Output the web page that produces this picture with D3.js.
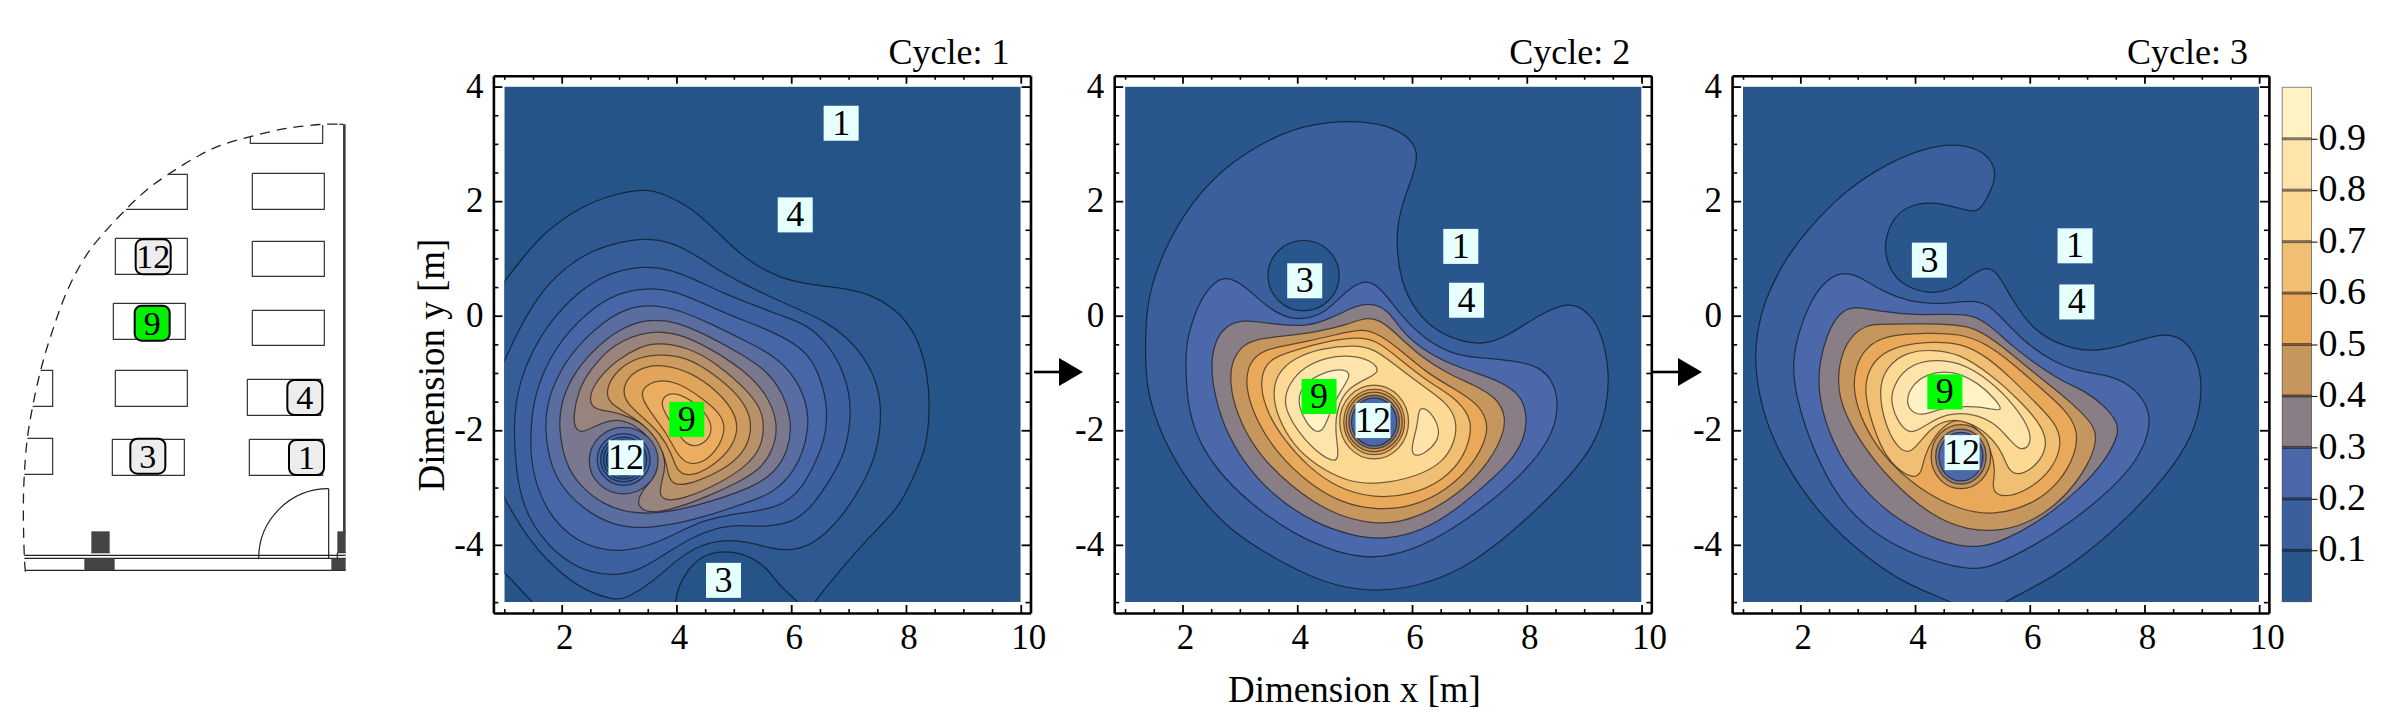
<!DOCTYPE html>
<html>
<head>
<meta charset="utf-8">
<script src="https://cdn.jsdelivr.net/npm/d3@7"></script>
<style>
  body { margin: 0; background: #fff; }
  text { font-family: "Liberation Serif", serif; fill: #000; }
</style>
</head>
<body>
<div id="chart"></div>
<script>
// colour bar bands, colour picked at the middle of each band
var bandMids = [0.05, 0.15, 0.25, 0.35, 0.45, 0.55, 0.65, 0.75, 0.85, 0.95]
var bandColors = ["#29568c", "#395f9c", "#4a68aa", "#897d86", "#c5975f", "#e9a85a", "#f0bf73", "#fdd994", "#fee3ab", "#fff2c4"]
var barTicks = [0.1, 0.2, 0.3, 0.4, 0.5, 0.6, 0.7, 0.8, 0.9]
var xMajor = [2, 4, 6, 8, 10]
var yMajor = [-4, -2, 0, 2, 4]
var cycleNames = ["Cycle: 1", "Cycle: 2", "Cycle: 3"]

// sensor labels: name, x [m], y [m]
var cycle1Sensors = [["1", 6.87, 3.36], ["4", 6.07, 1.76], ["9", 4.18, -1.81], ["12", 3.12, -2.48], ["3", 4.82, -4.62]]
var cycle2Sensors = [["3", 4.13, 0.61], ["1", 6.85, 1.21], ["4", 6.95, 0.27], ["9", 4.38, -1.41], ["12", 5.32, -1.83]]
var cycle3Sensors = [["3", 4.25, 0.97], ["1", 6.79, 1.22], ["4", 6.82, 0.24], ["9", 4.52, -1.33], ["12", 4.82, -2.39]]

// cycle 1 iso lines, every 0.05
var cycle1Levels = [0.05, 0.1, 0.15, 0.2, 0.25, 0.3, 0.35, 0.4, 0.45, 0.5, 0.55, 0.6]
var cycle1Lines = [
  [[0.8,0.35],[1,0.59],[1.33,1.03],[1.74,1.49],[2.32,1.90],[2.90,2.12],[3.44,2.21],[3.71,2.16],[4.30,1.87],[4.76,1.41],[5.22,0.97],[5.80,0.65],[6.39,0.53],[6.97,0.48],[7.49,0.33],[7.90,0.04],[8.2,-0.37],[8.38,-1.0],[8.42,-1.65],[8.35,-2.34],[8.13,-2.8],[7.91,-3.33],[7.25,-3.97],[6.81,-4.5],[6.39,-5.0],[6.32,-5.2],[6.2,-5.2],[6.15,-5.0],[5.80,-4.73],[5.57,-4.38],[5.22,-4.17],[4.85,-4.10],[4.47,-4.17],[4.21,-4.41],[4.03,-4.73],[3.98,-5.0],[3.95,-5.2],[1.7,-5.2],[1.48,-5.0],[1.16,-4.64],[1,-4.49],[0.8,-4.3],[0.6,-2]],
  [[0.7,-1.4],[1,-0.8],[1.22,-0.31],[1.57,0.33],[2.03,0.83],[2.55,1.15],[3.02,1.29],[3.45,1.35],[3.83,1.31],[4.30,1.09],[4.76,0.77],[5.22,0.53],[5.57,0.36],[6.15,0.10],[6.56,-0.08],[6.97,-0.37],[7.31,-0.77],[7.52,-1.24],[7.58,-1.76],[7.49,-2.40],[7.26,-2.93],[6.91,-3.48],[6.50,-3.91],[6.10,-4.10],[5.69,-4.08],[5.22,-3.94],[4.82,-3.91],[4.41,-4.0],[4.0,-4.26],[3.60,-4.64],[3.13,-4.93],[2.96,-4.97],[2.49,-4.84],[2.03,-4.55],[1.45,-3.97],[1,-3.19],[0.7,-2.6],[0.6,-2]],
  [[1.16,-1.99],[1.21,-1.41],[1.36,-0.89],[1.65,-0.31],[2.03,0.16],[2.44,0.53],[2.90,0.77],[3.45,0.87],[3.89,0.81],[4.35,0.62],[4.82,0.39],[5.34,0.19],[5.80,0.01],[6.21,-0.13],[6.56,-0.40],[6.85,-0.83],[7.02,-1.34],[7.04,-1.81],[6.94,-2.40],[6.68,-2.86],[6.39,-3.30],[6.04,-3.62],[5.51,-3.69],[5.05,-3.65],[4.76,-3.69],[4.30,-3.85],[3.83,-4.14],[3.37,-4.44],[2.96,-4.54],[2.49,-4.49],[2.03,-4.26],[1.62,-3.85],[1.33,-3.33],[1.21,-2.75]],
  [[1.46,-1.99],[1.51,-1.47],[1.71,-0.89],[2.03,-0.37],[2.49,0.10],[2.96,0.39],[3.46,0.49],[3.95,0.44],[4.41,0.24],[4.93,0.01],[5.46,-0.19],[5.92,-0.40],[6.30,-0.66],[6.53,-1.12],[6.64,-1.65],[6.59,-2.17],[6.39,-2.63],[6.15,-3.07],[5.80,-3.33],[5.34,-3.42],[4.88,-3.48],[4.41,-3.59],[3.95,-3.83],[3.48,-4.03],[3.02,-4.12],[2.55,-4.06],[2.12,-3.83],[1.77,-3.45],[1.54,-2.92],[1.46,-2.46]],
  [[1.71,-1.99],[1.74,-1.53],[1.94,-1.01],[2.26,-0.54],[2.73,-0.10],[3.13,0.13],[3.54,0.20],[4.06,0.10],[4.64,-0.16],[5.22,-0.45],[5.69,-0.69],[6.07,-1.06],[6.27,-1.53],[6.31,-1.88],[6.21,-2.40],[5.98,-2.81],[5.63,-3.13],[5.11,-3.30],[4.59,-3.48],[4.06,-3.62],[3.60,-3.69],[3.25,-3.71],[2.79,-3.62],[2.32,-3.33],[1.94,-2.92],[1.77,-2.46]],
  [[1.95,-1.99],[1.98,-1.53],[2.18,-1.06],[2.49,-0.66],[2.96,-0.25],[3.48,-0.05],[4.01,-0.10],[4.59,-0.37],[5.11,-0.66],[5.57,-0.95],[5.86,-1.35],[6.02,-1.88],[5.95,-2.34],[5.72,-2.75],[5.28,-3.01],[4.76,-3.19],[4.18,-3.36],[3.71,-3.45],[3.19,-3.45],[2.73,-3.30],[2.32,-2.98],[2.06,-2.58]],
  [[2.20,-1.76],[2.29,-1.30],[2.49,-0.95],[2.90,-0.48],[3.54,-0.25],[4.06,-0.31],[4.64,-0.60],[5.17,-0.95],[5.57,-1.35],[5.78,-1.88],[5.69,-2.34],[5.46,-2.69],[4.99,-2.95],[4.53,-3.16],[4.0,-3.36],[3.54,-3.46],[3.31,-3.33],[3.36,-3.10],[3.63,-2.81],[3.69,-2.46],[3.54,-2.14],[3.25,-1.88],[2.90,-1.79],[2.55,-1.94],[2.35,-2.05],[2.23,-1.97]],
  [[2.48,-1.41],[2.61,-1.12],[2.96,-0.77],[3.37,-0.54],[3.66,-0.47],[4.18,-0.54],[4.70,-0.83],[5.17,-1.24],[5.46,-1.59],[5.53,-1.88],[5.49,-2.29],[5.22,-2.63],[4.76,-2.92],[4.18,-3.18],[3.83,-3.24],[3.69,-3.13],[3.75,-2.87],[3.83,-2.58],[3.69,-2.11],[3.37,-1.85],[3.02,-1.70],[2.67,-1.65],[2.52,-1.59]],
  [[2.77,-1.35],[2.87,-1.06],[3.19,-0.77],[3.66,-0.66],[4.18,-0.72],[4.64,-1.01],[5.05,-1.35],[5.28,-1.70],[5.31,-2.05],[5.17,-2.40],[4.82,-2.69],[4.35,-2.90],[4.0,-2.98],[3.86,-2.84],[3.83,-2.58],[3.71,-2.23],[3.48,-1.94],[3.13,-1.70],[2.84,-1.53]],
  [[3.06,-1.30],[3.16,-1.06],[3.43,-0.89],[3.77,-0.85],[4.24,-0.98],[4.70,-1.30],[4.99,-1.65],[5.08,-1.94],[4.99,-2.28],[4.64,-2.63],[4.24,-2.82],[4.0,-2.72],[3.92,-2.40],[3.71,-2.05],[3.43,-1.79],[3.13,-1.53]],
  [[3.37,-1.41],[3.43,-1.24],[3.66,-1.12],[4.0,-1.15],[4.41,-1.41],[4.76,-1.70],[4.86,-1.94],[4.76,-2.28],[4.47,-2.58],[4.18,-2.60],[4.0,-2.40],[3.83,-2.05],[3.60,-1.76]],
  [[3.73,-1.53],[3.80,-1.38],[4.0,-1.34],[4.30,-1.50],[4.56,-1.76],[4.63,-1.99],[4.53,-2.20],[4.30,-2.30],[4.12,-2.20],[3.95,-1.94],[3.80,-1.70]]
]
// dips around a sensor: level, x, y, x radius, y radius [m]
var cycle1Dips = [[0.3,3.08,-2.53,0.60,0.58],[0.25,3.08,-2.51,0.46,0.45],[0.2,3.08,-2.51,0.40,0.39],[0.15,3.08,-2.51,0.35,0.34],[0.1,3.08,-2.51,0.30,0.29],[0.05,3.08,-2.51,0.25,0.24]]

// cycle 2 iso lines, every 0.1
var cycle2Levels = [0.1, 0.2, 0.3, 0.4, 0.5, 0.6, 0.7, 0.8, 0.8, 0.9]
var cycle2Lines = [
  [[1.37,0.04],[1.45,0.51],[1.70,1.20],[2.14,1.96],[2.73,2.60],[3.46,3.06],[4.12,3.33],[4.93,3.42],[5.59,3.33],[5.99,3.09],[6.12,2.80],[5.99,2.37],[5.81,1.90],[5.71,1.38],[5.80,0.56],[6.09,0.04],[6.44,-0.28],[6.85,-0.45],[7.25,-0.51],[7.66,-0.36],[8.16,-0.02],[8.74,0.27],[9.11,0.04],[9.33,-0.37],[9.44,-1.01],[9.40,-1.59],[9.18,-2.28],[8.60,-2.98],[7.79,-3.74],[7.06,-4.32],[6.32,-4.67],[5.44,-4.84],[4.49,-4.70],[3.54,-4.20],[2.80,-3.74],[2.14,-2.98],[1.63,-2.11],[1.37,-1.30],[1.35,-0.60]],
  [[2.09,-0.37],[2.29,0.27],[2.58,0.62],[2.80,0.68],[3.10,0.51],[3.46,0.16],[3.83,-0.05],[4.12,-0.06],[4.49,0.04],[4.86,0.45],[5.22,0.66],[5.51,0.42],[5.80,0.01],[6.21,-0.40],[6.67,-0.66],[7.14,-0.74],[7.79,-0.78],[8.23,-0.89],[8.49,-1.18],[8.56,-1.64],[8.41,-2.17],[7.94,-2.75],[7.35,-3.27],[6.69,-3.74],[6.03,-4.09],[5.37,-4.25],[4.71,-4.15],[3.90,-3.80],[3.17,-3.27],[2.58,-2.69],[2.18,-2.0],[2.06,-1.30],[2.06,-0.60]],
  [[5.22,0.23],[5.57,0.13],[5.80,-0.25],[6.15,-0.57],[6.62,-0.83],[7.14,-1.01],[7.54,-1.15],[7.90,-1.38],[8.01,-1.76],[7.96,-2.15],[7.72,-2.55],[7.25,-2.98],[6.62,-3.51],[5.98,-3.83],[5.45,-3.90],[4.99,-3.85],[4.29,-3.62],[3.60,-3.16],[3.07,-2.58],[2.72,-1.94],[2.55,-1.35],[2.49,-0.83],[2.58,-0.40],[2.78,-0.16],[3.07,-0.06],[3.65,-0.16],[4.18,-0.19],[4.58,-0.05],[4.93,0.13]],
  [[5.19,-0.02],[4.87,-0.16],[4.35,-0.28],[3.83,-0.35],[3.25,-0.41],[3.02,-0.54],[2.84,-0.83],[2.83,-1.30],[3.01,-1.88],[3.36,-2.46],[3.89,-2.98],[4.58,-3.45],[5.22,-3.62],[5.69,-3.63],[6.27,-3.45],[6.91,-3.04],[7.37,-2.52],[7.60,-2.05],[7.63,-1.76],[7.49,-1.44],[7.08,-1.21],[6.62,-1.01],[6.15,-0.72],[5.69,-0.28],[5.45,-0.08]],
  [[5.16,-0.22],[4.76,-0.31],[4.18,-0.45],[3.60,-0.55],[3.31,-0.66],[3.13,-0.89],[3.10,-1.30],[3.31,-1.88],[3.65,-2.40],[4.18,-2.92],[4.76,-3.27],[5.40,-3.40],[6.03,-3.33],[6.62,-3.04],[7.08,-2.58],[7.31,-2.11],[7.31,-1.82],[7.14,-1.53],[6.73,-1.27],[6.27,-1.01],[5.80,-0.60],[5.45,-0.34]],
  [[5.11,-0.37],[4.64,-0.42],[4.06,-0.57],[3.60,-0.72],[3.42,-0.89],[3.35,-1.24],[3.48,-1.70],[3.77,-2.17],[4.18,-2.63],[4.70,-3.01],[5.34,-3.19],[5.98,-3.13],[6.56,-2.87],[6.91,-2.46],[7.03,-2.05],[7.02,-1.76],[6.73,-1.41],[6.27,-1.15],[5.74,-0.72],[5.40,-0.45]],
  [[5.0,-0.51],[4.41,-0.57],[3.94,-0.74],[3.65,-1.01],[3.57,-1.35],[3.65,-1.76],[3.94,-2.28],[4.35,-2.63],[4.87,-2.90],[5.40,-2.95],[6.09,-2.81],[6.56,-2.55],[6.76,-2.17],[6.78,-1.82],[6.62,-1.53],[6.21,-1.24],[5.74,-0.89],[5.34,-0.57]],
  [[3.77,-1.47],[3.86,-1.18],[4.12,-0.89],[4.52,-0.72],[4.93,-0.69],[5.28,-0.77],[5.46,-0.98],[5.22,-1.09],[4.87,-1.27],[4.70,-1.59],[4.65,-1.99],[4.75,-2.53],[4.58,-2.54],[4.29,-2.34],[3.99,-1.99],[3.83,-1.70]],
  [[6.15,-1.59],[6.33,-1.67],[6.49,-1.99],[6.44,-2.20],[6.24,-2.40],[6.01,-2.47],[5.99,-2.28],[6.09,-1.94],[6.11,-1.70]],
  [[3.99,-1.47],[4.12,-1.18],[4.47,-0.98],[4.82,-0.92],[4.95,-1.03],[4.76,-1.30],[4.58,-1.65],[4.47,-1.99],[4.32,-2.06],[4.12,-1.82]]
]
var cycle2Dips = [[0.1,4.11,0.70,0.62,0.615],[0.7,5.34,-1.855,0.60,0.645],[0.6,5.34,-1.855,0.53,0.57],[0.5,5.34,-1.855,0.49,0.52],[0.4,5.34,-1.855,0.44,0.465],[0.3,5.34,-1.855,0.395,0.42]]

// cycle 3 iso lines, every 0.1
var cycle3Levels = [0.1, 0.2, 0.3, 0.4, 0.5, 0.6, 0.7, 0.8, 0.9]
var cycle3Lines = [
  [[1.24,-0.31],[1.36,0.22],[1.68,0.91],[2.16,1.55],[2.79,2.19],[3.51,2.66],[4.15,2.92],[4.67,3.01],[5.10,2.92],[5.36,2.69],[5.41,2.42],[5.30,2.13],[5.14,1.85],[4.98,1.81],[4.71,1.90],[4.27,1.99],[3.91,1.93],[3.63,1.73],[3.49,1.38],[3.47,1.09],[3.59,0.74],[3.83,0.51],[4.23,0.38],[4.63,0.44],[4.94,0.68],[5.22,0.86],[5.42,0.79],[5.66,0.33],[6.05,-0.25],[6.52,-0.51],[7.02,-0.64],[7.57,-0.54],[8.13,-0.35],[8.49,-0.32],[8.77,-0.48],[8.97,-0.89],[9.01,-1.41],[8.85,-2.11],[8.37,-2.81],[7.73,-3.51],[6.94,-4.20],[6.22,-4.67],[5.54,-5.0],[5.3,-5.2],[4.9,-5.2],[4.69,-5.0],[3.91,-4.73],[3.11,-4.20],[2.31,-3.45],[1.68,-2.52],[1.32,-1.65],[1.20,-0.83]],
  [[2.83,0.75],[3.09,0.65],[3.44,0.42],[3.90,0.24],[4.43,0.19],[5.01,0.28],[5.30,0.19],[5.59,-0.13],[5.94,-0.48],[6.40,-0.80],[6.87,-0.98],[7.33,-1.03],[7.73,-1.18],[8.05,-1.53],[8.12,-1.94],[7.89,-2.52],[7.41,-3.04],[6.78,-3.56],[6.06,-4.03],[5.34,-4.38],[5.02,-4.44],[4.39,-4.32],[3.51,-3.97],[2.79,-3.39],[2.31,-2.55],[2.02,-1.76],[1.89,-1.18],[1.87,-0.8],[1.96,-0.31],[2.16,0.22],[2.39,0.56],[2.63,0.73]],
  [[2.97,0.16],[3.44,0.07],[3.96,0.01],[4.66,0.03],[5.01,0.01],[5.30,-0.16],[5.70,-0.54],[6.17,-0.89],[6.57,-1.15],[6.98,-1.32],[7.33,-1.6],[7.52,-1.85],[7.56,-2.05],[7.33,-2.52],[6.86,-3.04],[6.22,-3.56],[5.58,-3.91],[5.10,-4.07],[4.47,-3.97],[3.67,-3.56],[3.03,-2.98],[2.55,-2.23],[2.31,-1.41],[2.32,-0.83],[2.51,-0.19],[2.74,0.10]],
  [[3.32,-0.15],[4.0,-0.14],[4.77,-0.15],[5.12,-0.25],[5.53,-0.54],[5.94,-0.89],[6.46,-1.30],[6.87,-1.65],[7.13,-1.94],[7.17,-2.17],[7.04,-2.58],[6.63,-3.16],[6.11,-3.56],[5.53,-3.77],[4.89,-3.74],[4.31,-3.51],[3.61,-2.92],[3.09,-2.28],[2.74,-1.65],[2.64,-1.18],[2.71,-0.66],[2.92,-0.31],[3.15,-0.18]],
  [[3.50,-0.34],[4.19,-0.30],[4.77,-0.31],[5.24,-0.48],[5.70,-0.83],[6.23,-1.30],[6.63,-1.65],[6.84,-1.99],[6.81,-2.40],[6.52,-2.92],[6.05,-3.30],[5.36,-3.49],[4.77,-3.39],[4.08,-3.04],[3.44,-2.46],[3.09,-1.88],[2.92,-1.35],[2.95,-0.89],[3.15,-0.54]],
  [[3.15,-1.06],[3.32,-0.72],[3.73,-0.51],[4.31,-0.45],[4.77,-0.48],[5.18,-0.66],[5.65,-1.06],[6.11,-1.53],[6.46,-1.88],[6.57,-2.23],[6.40,-2.69],[5.94,-3.07],[5.53,-3.18],[5.36,-3.06],[5.36,-2.92],[5.40,-2.69],[5.33,-2.34],[5.12,-2.00],[4.83,-1.78],[4.54,-1.88],[4.31,-2.14],[4.16,-2.46],[4.11,-2.75],[3.99,-2.84],[3.73,-2.72],[3.44,-2.40],[3.21,-1.76],[3.13,-1.35]],
  [[3.35,-1.30],[3.50,-0.89],[3.85,-0.63],[4.31,-0.59],[4.77,-0.66],[5.30,-1.01],[5.82,-1.47],[6.23,-1.94],[6.31,-2.28],[6.14,-2.60],[5.82,-2.80],[5.63,-2.71],[5.53,-2.40],[5.30,-2.08],[4.89,-1.82],[4.48,-1.82],[4.19,-2.05],[3.93,-2.42],[3.73,-2.34],[3.50,-1.99]],
  [[3.57,-1.53],[3.61,-1.24],[3.85,-0.89],[4.25,-0.76],[4.77,-0.80],[5.30,-1.12],[5.76,-1.59],[6.04,-2.05],[5.99,-2.30],[5.82,-2.35],[5.65,-2.17],[5.41,-1.88],[5.01,-1.70],[4.54,-1.70],[4.19,-1.91],[3.93,-2.08],[3.73,-1.91]],
  [[3.85,-1.47],[3.93,-1.24],[4.19,-1.01],[4.66,-0.95],[5.12,-1.18],[5.41,-1.47],[5.56,-1.69],[5.18,-1.59],[4.83,-1.58],[4.43,-1.62],[4.11,-1.76],[3.90,-1.65]]
]
var cycle3Dips = [[0.5,4.80,-2.46,0.52,0.56],[0.4,4.80,-2.46,0.44,0.48],[0.3,4.80,-2.46,0.385,0.425]]

// room plan, in plan units
var planDesks = [
  [[751,140],[751,160],[968,160],[968,105]],
  [[505,253],[562,253],[562,358],[378,358]],
  [[757,250],[973,250],[973,358],[757,358],[757,250]],
  [[346,445],[562,445],[562,553],[346,553],[346,445]],
  [[757,454],[973,454],[973,559],[757,559],[757,454]],
  [[340,640],[556,640],[556,748],[340,748],[340,640]],
  [[757,661],[973,661],[973,766],[757,766],[757,661]],
  [[346,841],[562,841],[562,949],[346,949],[346,841]],
  [[742,868],[962,868],[962,976],[742,976],[742,868]],
  [[122,841],[158,841],[158,949],[98,949]],
  [[82,1045],[158,1045],[158,1153],[73,1153]],
  [[337,1048],[553,1048],[553,1156],[337,1156],[337,1048]],
  [[748,1048],[968,1048],[968,1156],[748,1156],[748,1048]]
]
var planOutline = [[76,1445],[73,1400],[70,1250],[73,1153],[82,1045],[98,949],[122,841],[150,745],[205,595],[270,480],[378,358],[440,300],[505,253],[600,195],[665,165],[751,140],[860,115],[970,103],[1030,103]]
var planPillars = [[274,1324,329,1388],[253,1405,344,1441],[1012,1324,1037,1388],[994,1405,1037,1441]]
var planLines = [[73,1396,1037,1396],[73,1405,1037,1405],[76,1441,1037,1441],[986,1196,986,1405],[274,1388,329,1388],[1012,1388,1037,1388],[1012,1388,1012,1405]]
var planSensors = [["12",407,448,false],["9",404,647,true],["4",862,870,false],["3",391,1046,false],["1",867,1050,false]]

var svgSize = { width: 2397, height: 716 }

var svg = d3.select("#chart")
    .append("svg")
    .attr("width", svgSize.width)
    .attr("height", svgSize.height)
    .style("display", "block")

var color = d3.scaleLinear().domain(bandMids).range(bandColors)

var frameTop = 75.7
var frameBottom = 613
var panelLefts = [493.4, 1114.2, 1732.1]
var panelRights = [1030.5, 1651.3, 2268.9]

var line = d3.line().curve(d3.curveBasisClosed)

function drawPanel(i, levels, lines, dips, sensors, step) {
    var x = d3.scaleLinear().domain([0.81, 10.17]).range([panelLefts[i], panelRights[i]])
    var y = d3.scaleLinear().domain([-5.19, 4.19]).range([frameBottom, frameTop])
    var g = svg.append("g")

    g.append("clipPath").attr("id", "clip" + i)
        .append("rect")
        .attr("x", x(1)).attr("y", y(4))
        .attr("width", x(10) - x(1)).attr("height", y(-5) - y(4))

    var plot = g.append("g").attr("clip-path", `url(#clip${i})`)
    plot.append("rect")
        .attr("x", x(1)).attr("y", y(4))
        .attr("width", x(10) - x(1)).attr("height", y(-5) - y(4))
        .attr("fill", color(levels[0] / 2))

    line.x(d => x(d[0])).y(d => y(d[1]))

    plot.selectAll("path.iso")
        .data(lines)
        .enter()
        .append("path")
        .attr("class", "iso")
        .attr("d", d => line(d))
        .attr("fill", (d, k) => color(levels[k] + step / 2))
        .attr("stroke", "#000")
        .attr("stroke-opacity", 0.55)
        .attr("stroke-width", 1.25)

    plot.selectAll("ellipse")
        .data(dips)
        .enter()
        .append("ellipse")
        .attr("cx", d => x(d[1]))
        .attr("cy", d => y(d[2]))
        .attr("rx", d => x(d[3]) - x(0))
        .attr("ry", d => y(0) - y(d[4]))
        .attr("fill", d => color(d[0] - step / 2))
        .attr("stroke", "#000")
        .attr("stroke-opacity", 0.55)
        .attr("stroke-width", 1.25)

    // sensor boxes
    var boxes = g.selectAll("g.sensor").data(sensors).enter().append("g")
        .attr("class", "sensor")
        .attr("transform", d => `translate(${x(d[1])}, ${y(d[2])})`)
    boxes.append("rect")
        .attr("x", -17.5).attr("y", -17.5)
        .attr("width", 35).attr("height", 35)
        .attr("fill", d => d[0] == "9" ? "#00ff00" : "#e6ffff")
    boxes.append("text")
        .attr("text-anchor", "middle")
        .attr("y", 11.5)
        .attr("font-size", 36)
        .text(d => d[0])

    // frame and ticks, on all four sides
    var xMinor = d3.range(1, 10.01, 0.5).filter(d => !xMajor.includes(d))
    var yMinor = d3.range(-5, 4.01, 0.5).filter(d => !yMajor.includes(d))

    var axes = [
        [d3.axisBottom(x), frameBottom, 0, xMajor, xMinor, -8, -4],
        [d3.axisTop(x), frameTop, 0, xMajor, xMinor, -8, -4],
        [d3.axisLeft(y), 0, panelLefts[i], yMajor, yMinor, -9, -5],
        [d3.axisRight(y), 0, panelRights[i], yMajor, yMinor, -9, -5]
    ]
    axes.forEach(a => {
        var ax = g.append("g").attr("transform", `translate(${a[2]}, ${a[1]})`)
        ax.call(a[0].tickValues(a[3]).tickSize(a[5]).tickSizeOuter(0))
        ax.selectAll("text").remove()
        ax.select(".domain").attr("stroke-width", 2.6)
        ax.selectAll(".tick line").attr("stroke-width", 1.8)
        var minor = g.append("g").attr("transform", `translate(${a[2]}, ${a[1]})`)
        minor.call(a[0].tickValues(a[4]).tickSize(a[6]).tickSizeOuter(0))
        minor.selectAll("text").remove()
        minor.select(".domain").remove()
        minor.selectAll(".tick line").attr("stroke-width", 1.6)
    })

    g.selectAll("text.xlab").data(xMajor).enter().append("text")
        .attr("class", "xlab")
        .attr("x", d => x(d) + (d == 10 ? 8 : 3))
        .attr("y", 649)
        .attr("text-anchor", "middle")
        .attr("font-size", 35)
        .text(d => d)

    g.selectAll("text.ylab").data(yMajor).enter().append("text")
        .attr("class", "ylab")
        .attr("x", panelLefts[i] - 10)
        .attr("y", d => y(d) + 11)
        .attr("text-anchor", "end")
        .attr("font-size", 35)
        .text(d => d)

    g.append("text")
        .attr("x", panelRights[i] - 21)
        .attr("y", 64)
        .attr("text-anchor", "end")
        .attr("font-size", 36)
        .text(cycleNames[i])
}

drawPanel(0, cycle1Levels, cycle1Lines, cycle1Dips, cycle1Sensors, 0.05)
drawPanel(1, cycle2Levels, cycle2Lines, cycle2Dips, cycle2Sensors, 0.1)
drawPanel(2, cycle3Levels, cycle3Lines, cycle3Dips, cycle3Sensors, 0.1)

// axis titles
svg.append("text")
    .attr("x", 1354.5).attr("y", 701.5)
    .attr("text-anchor", "middle")
    .attr("font-size", 37)
    .text("Dimension x [m]")

svg.append("text")
    .attr("transform", "translate(444, 365) rotate(-90)")
    .attr("text-anchor", "middle")
    .attr("font-size", 37)
    .text("Dimension y [m]")

// arrows between the panels
var arrowStarts = [1034, 1653]
arrowStarts.forEach(a => {
    svg.append("line")
        .attr("x1", a).attr("x2", a + 26)
        .attr("y1", 372).attr("y2", 372)
        .attr("stroke", "#000").attr("stroke-width", 2.6)
    svg.append("path")
        .attr("d", `M${a + 25},358 L${a + 49},372 L${a + 25},386 Z`)
        .attr("fill", "#000")
})

// colour bar
var barY = d3.scaleLinear().domain([0, 1]).range([601.7, 87.3])
var barLeft = 2282.2
var barRight = 2311.5
var barBands = svg.append("g")
barBands.selectAll("rect")
    .data(bandMids)
    .enter()
    .append("rect")
    .attr("x", barLeft)
    .attr("width", barRight - barLeft)
    .attr("y", d => barY(d + 0.05))
    .attr("height", d => barY(d - 0.05) - barY(d + 0.05))
    .attr("fill", d => color(d))
barBands.append("rect")
    .attr("x", barLeft).attr("y", barY(1))
    .attr("width", barRight - barLeft).attr("height", barY(0) - barY(1))
    .attr("fill", "none").attr("stroke", "#000").attr("stroke-opacity", 0.45).attr("stroke-width", 1)
barBands.selectAll("line")
    .data(barTicks)
    .enter()
    .append("line")
    .attr("x1", barLeft).attr("x2", barRight)
    .attr("y1", d => barY(d)).attr("y2", d => barY(d))
    .attr("stroke", "#000").attr("stroke-opacity", 0.5).attr("stroke-width", 3)

var barAxis = svg.append("g")
    .attr("transform", `translate(${barRight}, 0)`)
    .call(d3.axisRight(barY).tickValues(barTicks).tickSize(6).tickSizeOuter(0).tickPadding(1).tickFormat(d3.format(".1f")))
barAxis.select(".domain").remove()
barAxis.selectAll("text")
    .attr("font-family", "Liberation Serif")
    .attr("font-size", 38)
    .attr("dy", "0.28em")

// room plan on the left
var planX = d3.scaleLinear().domain([0, 1200]).range([0, 400])
var planY = d3.scaleLinear().domain([0, 1530]).range([90, 600])
var plan = svg.append("g")

var planLine = d3.line().x(d => planX(d[0])).y(d => planY(d[1]))

plan.selectAll("path.desk")
    .data(planDesks)
    .enter()
    .append("path")
    .attr("class", "desk")
    .attr("d", d => planLine(d))
    .attr("fill", "none").attr("stroke", "#333").attr("stroke-width", 1.2)

// the dashed outline of the room
plan.append("path")
    .attr("d", d3.line().curve(d3.curveCatmullRom).x(d => planX(d[0])).y(d => planY(d[1]))(planOutline))
    .attr("fill", "none").attr("stroke", "#222").attr("stroke-width", 1.3).attr("stroke-dasharray", "10,7")

plan.append("rect")
    .attr("x", planX(274)).attr("y", planY(1388))
    .attr("width", planX(329) - planX(274)).attr("height", planY(1396) - planY(1388))
    .attr("fill", "#fff")

plan.selectAll("line")
    .data(planLines)
    .enter()
    .append("line")
    .attr("x1", d => planX(d[0])).attr("y1", d => planY(d[1]))
    .attr("x2", d => planX(d[2])).attr("y2", d => planY(d[3]))
    .attr("stroke", "#222").attr("stroke-width", 1.2)

plan.append("line")
    .attr("x1", planX(1033)).attr("x2", planX(1033))
    .attr("y1", planY(103)).attr("y2", planY(1330))
    .attr("stroke", "#3c3c3c").attr("stroke-width", 2.6)
plan.append("line")
    .attr("x1", planX(1018)).attr("x2", planX(1030))
    .attr("y1", planY(103)).attr("y2", planY(103))
    .attr("stroke", "#222").attr("stroke-width", 1.2)

plan.selectAll("rect.pillar")
    .data(planPillars)
    .enter()
    .append("rect")
    .attr("class", "pillar")
    .attr("x", d => planX(d[0])).attr("y", d => planY(d[1]))
    .attr("width", d => planX(d[2]) - planX(d[0])).attr("height", d => planY(d[3]) - planY(d[1]))
    .attr("fill", "#444")

// door
plan.append("path")
    .attr("d", `M${planX(986)},${planY(1196)} A${planX(210)},${planY(209) - planY(0)} 0 0 0 ${planX(776)},${planY(1405)}`)
    .attr("fill", "none").attr("stroke", "#222").attr("stroke-width", 1.2)

var planBoxes = plan.selectAll("g.sensor")
    .data(planSensors)
    .enter()
    .append("g")
    .attr("class", "sensor")
    .attr("transform", d => `translate(${planX(d[1])}, ${planY(d[2])})`)
planBoxes.append("rect")
    .attr("width", 35).attr("height", 35).attr("rx", 7)
    .attr("fill", d => d[3] ? "#00f000" : "#ededed")
    .attr("stroke", "#000").attr("stroke-width", 2)
planBoxes.append("text")
    .attr("x", 17.5).attr("y", 29)
    .attr("text-anchor", "middle")
    .attr("font-size", 34)
    .text(d => d[0])
</script>
</body>
</html>
